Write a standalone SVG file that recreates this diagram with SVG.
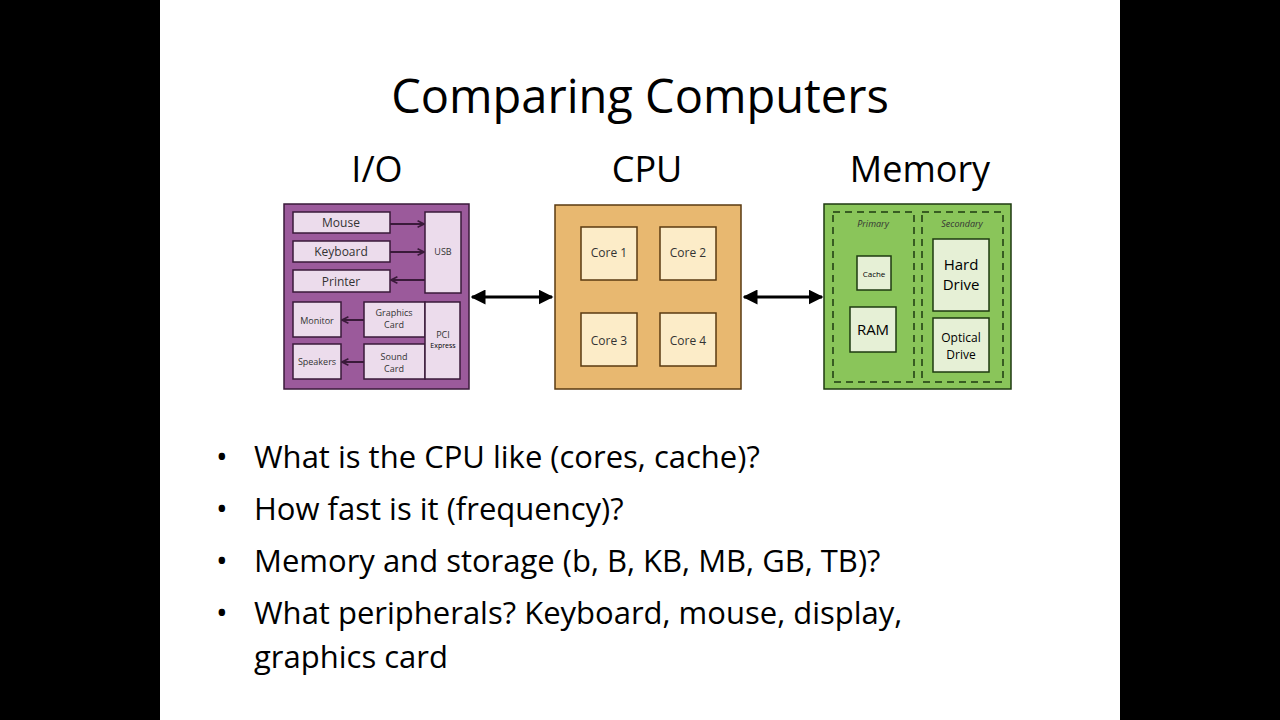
<svg xmlns="http://www.w3.org/2000/svg" width="1280" height="720" viewBox="0 0 1280 720">
<defs>
<marker id="ah" viewBox="0 0 10 10" refX="9" refY="5" markerWidth="5" markerHeight="5" orient="auto-start-reverse"><path d="M0,0 L10,5 L0,10 z" fill="#000"/></marker>
<marker id="sa" viewBox="0 0 10 10" refX="9" refY="5" markerWidth="4" markerHeight="4" orient="auto"><path d="M1,1 L9,5 L1,9" fill="none" stroke="#3a1a3a" stroke-width="2"/></marker>
<style>
text{font-family:"Open Sans","Liberation Sans",sans-serif;fill:#000}
.t{text-anchor:middle}
.pb{fill:#ecdcec;stroke:#3a1a3a;stroke-width:1.5}
.ob{fill:#fcecc8;stroke:#5a3a10;stroke-width:1.5}
.gb{fill:#e6f0d6;stroke:#1e3a10;stroke-width:1.5}
.s{font-size:12px;fill:#333}
.xs{font-size:9px;fill:#333}
.l{stroke:#3a1a3a;stroke-width:2}
.b{font-size:31px}
</style>
</defs>
<rect width="1280" height="720" fill="#000"/>
<rect x="160" width="960" height="720" fill="#fff"/>
<text class="t" x="640" y="113" font-size="47">Comparing Computers</text>
<text class="t" x="377" y="182" font-size="36">I/O</text>
<text class="t" x="647" y="182" font-size="36">CPU</text>
<text class="t" x="920" y="182" font-size="36">Memory</text>
<g id="io">
<rect x="284" y="204" width="185" height="185" fill="#9b5a9b" stroke="#3a1a3a" stroke-width="1.5"/>
<rect class="pb" x="293" y="212" width="97" height="21"/><text class="t s" x="341" y="227">Mouse</text>
<rect class="pb" x="293" y="241" width="97" height="21"/><text class="t s" x="341" y="256">Keyboard</text>
<rect class="pb" x="293" y="270" width="97" height="22"/><text class="t s" x="341" y="286">Printer</text>
<rect class="pb" x="425" y="212" width="36" height="81"/><text class="t xs" x="443" y="255">USB</text>
<rect class="pb" x="293" y="302" width="48" height="35"/><text class="t xs" x="317" y="324">Monitor</text>
<rect class="pb" x="293" y="344" width="48" height="35"/><text class="t xs" x="317" y="365">Speakers</text>
<rect class="pb" x="364" y="302" width="61" height="35"/><text class="t xs" x="394" y="316">Graphics</text><text class="t xs" x="394" y="328">Card</text>
<rect class="pb" x="364" y="344" width="61" height="35"/><text class="t xs" x="394" y="360">Sound</text><text class="t xs" x="394" y="372">Card</text>
<rect class="pb" x="425" y="302" width="35" height="77"/><text class="t xs" x="443" y="338">PCI</text><text class="t" x="443" y="348" font-size="7" fill="#333">Express</text>
<line class="l" x1="390" y1="224" x2="424" y2="224" marker-end="url(#sa)"/>
<line class="l" x1="390" y1="252" x2="424" y2="252" marker-end="url(#sa)"/>
<line class="l" x1="425" y1="280" x2="391" y2="280" marker-end="url(#sa)"/>
<line class="l" x1="364" y1="320" x2="342" y2="320" marker-end="url(#sa)"/>
<line class="l" x1="364" y1="362" x2="342" y2="362" marker-end="url(#sa)"/>
</g>
<g id="cpu">
<rect x="555" y="205" width="186" height="184" fill="#e8b870" stroke="#5a3a10" stroke-width="1.5"/>
<rect class="ob" x="581" y="227" width="56" height="53"/><text class="t s" x="609" y="257">Core 1</text>
<rect class="ob" x="660" y="227" width="56" height="53"/><text class="t s" x="688" y="257">Core 2</text>
<rect class="ob" x="581" y="313" width="56" height="53"/><text class="t s" x="609" y="345">Core 3</text>
<rect class="ob" x="660" y="313" width="56" height="53"/><text class="t s" x="688" y="345">Core 4</text>
</g>
<g id="memory">
<rect x="824" y="204" width="187" height="185" fill="#8ac55a" stroke="#1e3a10" stroke-width="1.5"/>
<rect x="833" y="212" width="81" height="170" fill="none" stroke="#1e3a10" stroke-width="1.5" stroke-dasharray="7,5"/>
<rect x="922" y="212" width="81" height="170" fill="none" stroke="#1e3a10" stroke-width="1.5" stroke-dasharray="7,5"/>
<text class="t xs" x="873" y="227" font-style="italic" font-size="11">Primary</text>
<text class="t xs" x="962" y="227" font-style="italic" font-size="11">Secondary</text>
<rect class="gb" x="857" y="256" width="34" height="34"/><text class="t" x="874" y="277" font-size="8" fill="#333">Cache</text>
<rect class="gb" x="850" y="307" width="46" height="45"/><text class="t" x="873" y="335" font-size="15" fill="#333">RAM</text>
<rect class="gb" x="933" y="239" width="56" height="72"/><text class="t" x="961" y="270" font-size="15" fill="#333">Hard</text><text class="t" x="961" y="290" font-size="15" fill="#333">Drive</text>
<rect class="gb" x="933" y="318" width="56" height="54"/><text class="t" x="961" y="342" font-size="12" fill="#333">Optical</text><text class="t" x="961" y="359" font-size="12" fill="#333">Drive</text>
</g>
<g id="connectors">
<line x1="472" y1="297" x2="552" y2="297" stroke="#000" stroke-width="3" marker-start="url(#ah)" marker-end="url(#ah)"/>
<line x1="744" y1="297" x2="822" y2="297" stroke="#000" stroke-width="3" marker-start="url(#ah)" marker-end="url(#ah)"/>
</g>
<g id="bullets">
<text class="b" x="216" y="468">•</text><text class="b" x="254" y="468">What is the CPU like (cores, cache)?</text>
<text class="b" x="216" y="520">•</text><text class="b" x="254" y="520">How fast is it (frequency)?</text>
<text class="b" x="216" y="572">•</text><text class="b" x="254" y="572">Memory and storage (b, B, KB, MB, GB, TB)?</text>
<text class="b" x="216" y="624">•</text><text class="b" x="254" y="624">What peripherals?  Keyboard, mouse, display,</text>
<text class="b" x="254" y="668">graphics card</text>
</g>
</svg>
